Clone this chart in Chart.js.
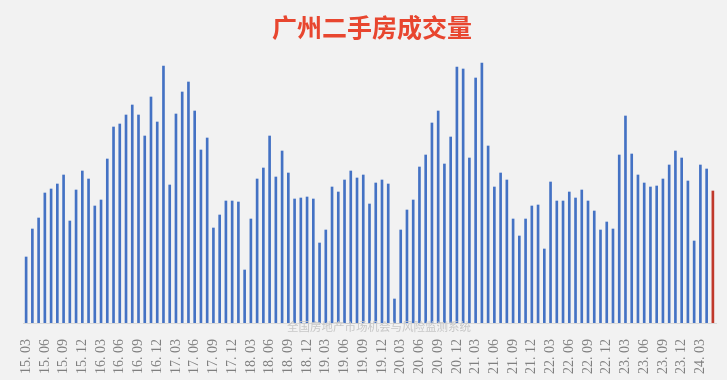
<!DOCTYPE html>
<html>
<head>
<meta charset="utf-8">
<script src="https://cdn.jsdelivr.net/npm/chart.js@4"></script>
<style>
  body { margin: 0; background: #f2f2f2; }
  #wrap { position: relative; width: 727px; height: 380px; }
  #title { position: absolute; left: 0; top: 8px; width: 744px; text-align: center;
           font: bold 25px "Noto Sans CJK SC"; color: #e8462f; }
  #mark { position: absolute; left: 287px; top: 318px; white-space: nowrap;
          font: 11.5px "Noto Sans CJK SC"; color: #c8c8c8; }
</style>
</head>
<body>
<div id="wrap">
  <canvas id="myChart" width="727" height="380"></canvas>
  <div id="title">广州二手房成交量</div>
  <div id="mark">全国房地产市场机会与风险监测系统</div>
</div>
<script>
// monthly volumes, 2015.03 - 2024.05
const vol2015 = [3300, 4700, 5250, 6500, 6700, 6950, 7400, 5100, 6650, 7600];
const vol2016 = [7200, 5850, 6150, 8200, 9800, 9950, 10400, 10900, 10400, 9350, 11300, 10050];
const vol2017 = [12850, 6900, 10450, 11550, 12050, 10600, 8650, 9250, 4750, 5400, 6100, 6100];
const vol2018 = [6050, 2650, 5200, 7200, 7750, 9350, 7300, 8600, 7500, 6200, 6250, 6300];
const vol2019 = [6200, 4000, 4650, 6800, 6550, 7150, 7600, 7250, 7400, 5950, 7000, 7150];
const vol2020 = [6950, 1200, 4650, 5650, 6150, 7800, 8400, 10000, 10600, 7950, 9300, 12800];
const vol2021 = [12700, 8250, 12250, 13000, 8850, 6800, 7500, 7150, 5200, 4350, 5200, 5850];
const vol2022 = [5900, 3700, 7050, 6100, 6100, 6550, 6250, 6650, 6100, 5600, 4650, 5050];
const vol2023 = [4700, 8400, 10350, 8450, 7400, 7000, 6800, 6850, 7200, 7900, 8600, 8250];
const vol2024 = [7100, 4100, 7900, 7700, 6600];

const volumes = [].concat(vol2015, vol2016, vol2017, vol2018, vol2019,
  vol2020, vol2021, vol2022, vol2023, vol2024);

// category labels "15. 03" ... "24. 05"
const months = [];
for (let y = 15; y <= 24; y++) {
  for (let m = 1; m <= 12; m++) {
    if (y === 15 && m < 3) continue;
    if (y === 24 && m > 5) break;
    months.push(y + ". " + String(m).padStart(2, "0"));
  }
}
const tickMonths = ["03", "06", "09", "12"];

const barColors = volumes.map((v, i) => (i === volumes.length - 1 ? "#c0392b" : "#4472c4"));

const ctx = document.getElementById("myChart");
new Chart(ctx, {
  type: "bar",
  data: {
    labels: months,
    datasets: [
      {
        label: "成交量",
        data: volumes,
        backgroundColor: barColors,
        barThickness: 2,
      },
    ],
  },
  options: {
    responsive: false,
    animation: false,
    layout: { padding: { top: 43, left: 23, right: 11, bottom: 0 } },
    plugins: {
      legend: { display: false },
      title: { display: false },
      tooltip: { enabled: false },
    },
    scales: {
      x: {
        grid: { display: false },
        border: { color: "#d9d9d9" },
        ticks: {
          autoSkip: false,
          minRotation: 90,
          maxRotation: 90,
          padding: 8,
          color: "#808080",
          font: { family: "Liberation Serif", size: 14 },
          callback: function (val, idx) {
            const lab = months[idx];
            return tickMonths.includes(lab.slice(-2)) ? lab : "";
          },
        },
        afterFit(scale) {
          scale.height = 57;
          scale.paddingLeft = 0;
          scale.paddingRight = 0;
        },
      },
      y: { display: false, min: 0, max: 14000 },
    },
  },
});
</script>
</body>
</html>
